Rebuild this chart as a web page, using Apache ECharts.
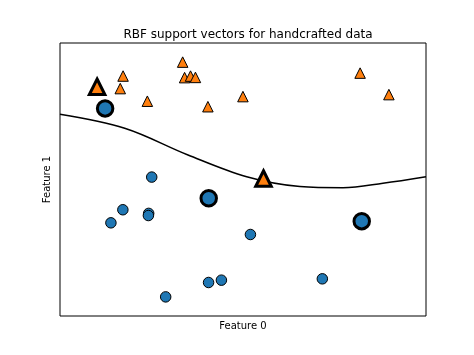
<!DOCTYPE html>
<html>
<head>
<meta charset="utf-8">
<script src="https://cdn.jsdelivr.net/npm/echarts@6/dist/echarts.min.js"></script>
<style>html,body{margin:0;padding:0;background:#fff}#c{width:474px;height:355px}</style>
</head>
<body>
<div id="c"></div>
<script>
// Forge-like handcrafted data
const featureX = [9.963, 11.033, 11.542, 8.693, 8.106, 8.310, 11.930, 9.673, 8.348, 8.675, 9.177, 10.240, 8.689, 8.922, 9.491, 9.257, 7.998, 8.184, 8.734, 9.323, 10.064, 9.500, 8.345, 9.502, 9.151, 11.564];
const featureY = [4.597, -0.168, 5.211, 1.543, 4.287, 4.806, 4.649, -0.203, 5.134, 4.476, 5.093, 2.455, 1.487, -0.640, 4.332, 5.133, 4.853, 1.296, 2.492, 5.098, 0.991, -0.264, 1.638, 1.938, 5.498, 1.339];
const labels   = [1, 0, 1, 0, 0, 1, 1, 0, 1, 1, 1, 1, 0, 0, 1, 1, 1, 0, 0, 1, 0, 0, 0, 0, 1, 0];

// support vectors
const svX = [8.106, 9.502, 11.564, 7.998, 10.240];
const svY = [4.287, 1.938, 1.339, 4.853, 2.455];
const svLabels = [0, 0, 0, 1, 1];

// decision boundary
const boundaryX = [7.498, 8.370, 9.223, 10.014, 10.732, 11.311, 11.850, 12.430];
const boundaryY = [4.134, 3.768, 3.070, 2.502, 2.246, 2.215, 2.330, 2.500];

const xRange = [7.498, 12.430];
const yRange = [-1.140, 5.998];

const pick = (xs, ys, ls, c) => xs.map((x, i) => [x, ys[i], ls[i]]).filter(d => d[2] === c).map(d => [d[0], d[1]]);

const chart = echarts.init(document.getElementById('c'), null, {renderer: 'canvas'});
const font = 'DejaVu Sans';
chart.setOption({
  animation: false,
  backgroundColor: '#fff',
  title: {
    text: 'RBF support vectors for handcrafted data',
    left: 243, top: 24, textAlign: 'center',
    textStyle: {fontFamily: font, fontSize: 12, fontWeight: 'normal', color: '#000'}
  },
  grid: {left: 60, right: 48, top: 43, bottom: 39, show: true, borderColor: '#000', borderWidth: 1, backgroundColor: 'transparent'},
  xAxis: {
    type: 'value', min: xRange[0], max: xRange[1],
    name: 'Feature 0', nameLocation: 'middle', nameGap: 5,
    nameTextStyle: {fontFamily: font, fontSize: 10, color: '#000', verticalAlign: 'top'},
    axisLine: {show: false}, axisTick: {show: false}, axisLabel: {show: false}, splitLine: {show: false}
  },
  yAxis: {
    type: 'value', min: yRange[0], max: yRange[1],
    name: 'Feature 1', nameLocation: 'middle', nameGap: 8,
    nameTextStyle: {fontFamily: font, fontSize: 10, color: '#000'},
    axisLine: {show: false}, axisTick: {show: false}, axisLabel: {show: false}, splitLine: {show: false}
  },
  series: [
    {type: 'line', data: boundaryX.map((x, i) => [x, boundaryY[i]]), smooth: 0.35, showSymbol: false,
     lineStyle: {color: '#000', width: 1.5}, z: 1, clip: true},
    {type: 'scatter', data: pick(featureX, featureY, labels, 0), symbol: 'circle', symbolSize: 10.5,
     itemStyle: {color: '#1f77b4', borderColor: '#000', borderWidth: 1, opacity: 1}, z: 2},
    {type: 'scatter', data: pick(featureX, featureY, labels, 1), symbol: 'triangle', symbolSize: 10.5,
     itemStyle: {color: '#ff7f0e', borderColor: '#000', borderWidth: 1, opacity: 1}, z: 3},
    {type: 'scatter', data: pick(svX, svY, svLabels, 0), symbol: 'circle', symbolSize: 15.5,
     itemStyle: {color: '#1f77b4', borderColor: '#000', borderWidth: 3, opacity: 1}, z: 4},
    {type: 'scatter', data: pick(svX, svY, svLabels, 1), symbol: 'triangle', symbolSize: 15.5,
     itemStyle: {color: '#ff7f0e', borderColor: '#000', borderWidth: 3, opacity: 1}, z: 5}
  ]
});
</script>
</body>
</html>
